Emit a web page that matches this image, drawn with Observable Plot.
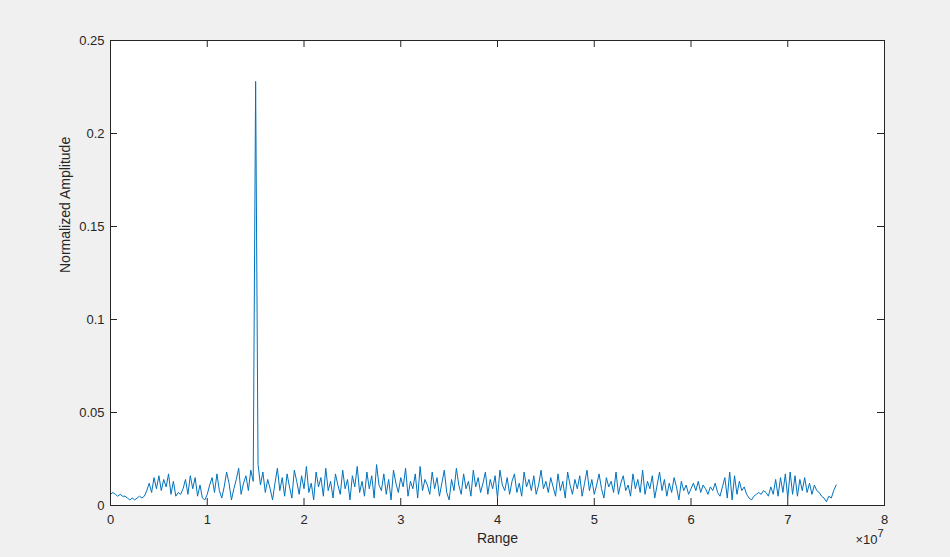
<!DOCTYPE html>
<html>
<head>
<meta charset="utf-8">
<script src="https://cdn.jsdelivr.net/npm/d3@7"></script>
<script src="https://cdn.jsdelivr.net/npm/@observablehq/plot@0.6"></script>
<style>
html,body{margin:0;padding:0;background:#f0f0f0;}
</style>
</head>
<body>
<div id="chart"></div>
<script>
// sample spacing along range (metres) and amplitudes (x 0.001)
const rangeStep = 250000;
const ampMilli = [
  6,7,6,5,6,5,5,4,3,4,3,4,5,4,5,
  8,12,7,15,9,16,8,14,10,17,6,13,
  5,7,6,9,
  14,6,16,9,15,5,11,4,
  3,6,
  11,15,7,17,8,4,10,18,12,3,9,14,20,6,12,16,8,19,13,
  228,
  22,11,18,7,14,9,3,12,20,8,15,5,17,10,4,19,13,6,16,9,21,7,12,3,18,10,15,5,20,8,13,4,17,11,6,19,9,14,3,16,
  10,21,7,13,5,18,9,16,4,22,11,8,17,6,14,3,19,12,7,15,10,20,5,13,9,17,4,21,8,14,11,6,18,9,15,5,12,19,7,3,
  14,8,20,11,6,17,9,13,5,19,10,15,7,12,18,6,14,9,16,4,19,11,8,15,6,13,17,7,12,5,18,10,14,8,16,6,11,19,9,13,
  7,15,10,5,17,8,13,4,18,11,6,14,9,16,5,12,19,8,14,6,11,17,9,4,15,10,13,7,18,6,12,16,8,11,5,17,9,14,7,19,
  6,13,9,16,4,11,18,8,14,5,12,7,15,10,3,13,8,11,6,9,
  12,8,13,7,11,9,6,10,8,12,7,5,
  10,15,4,18,3,16,6,13,8,10,
  6,4,3,5,6,7,6,8,7,5,
  10,6,14,5,15,7,17,4,18,6,16,5,14,8,15,7,12,6,11,8,
  7,5,4,2,5,4,8,11
];
const xTicks = [0,1e7,2e7,3e7,4e7,5e7,6e7,7e7,8e7];
const xTickLabels = ["0","1","2","3","4","5","6","7","8"];
const yTicks = [0,0.05,0.1,0.15,0.2,0.25];
const yTickLabels = ["0","0.05","0.1","0.15","0.2","0.25"];

const data = ampMilli.map((a, i) => ({range: i * rangeStep, amp: a / 1000}));

const ink = "#262626";
const chart = Plot.plot({
  width: 950,
  height: 557,
  marginLeft: 110,
  marginRight: 66,
  marginTop: 40,
  marginBottom: 52,
  style: {background: "#f0f0f0", fontFamily: "'Liberation Sans', Arial, sans-serif", fontSize: "13px", color: ink},
  x: {domain: [0, 8e7]},
  y: {domain: [0, 0.25]},
  marks: [
    Plot.frame({fill: "white", stroke: "none"}),
    Plot.line(data, {x: "range", y: "amp", stroke: "#0072BD", strokeWidth: 1}),
    Plot.tickX(xTicks, {x: d => d, stroke: ink, insetTop: 458}),
    Plot.tickX(xTicks, {x: d => d, stroke: ink, insetBottom: 458}),
    Plot.tickY(yTicks, {y: d => d, stroke: ink, insetRight: 767}),
    Plot.tickY(yTicks, {y: d => d, stroke: ink, insetLeft: 767}),
    Plot.frame({stroke: ink, strokeWidth: 1}),
    Plot.axisX({ticks: xTicks, tickSize: 0, tickPadding: 9, tickFormat: (d, i) => xTickLabels[i], label: null, fill: ink, fontSize: 13}),
    Plot.axisY({ticks: yTicks, tickSize: 0, tickPadding: 6, tickFormat: (d, i) => yTickLabels[i], label: null, fill: ink, fontSize: 13}),
    Plot.text(["Range"], {frameAnchor: "bottom", dy: 37, fill: ink, fontSize: 14}),
    Plot.text(["Normalized Amplitude"], {frameAnchor: "left", dx: -45, rotate: -90, fill: ink, fontSize: 14}),
    Plot.text(["×10"], {frameAnchor: "bottom-right", dx: -7, dy: 38, textAnchor: "end", fill: ink, fontSize: 13}),
    Plot.text(["7"], {frameAnchor: "bottom-right", dx: -7, dy: 31, textAnchor: "start", fill: ink, fontSize: 11})
  ]
});
document.getElementById("chart").appendChild(chart);
</script>
</body>
</html>
